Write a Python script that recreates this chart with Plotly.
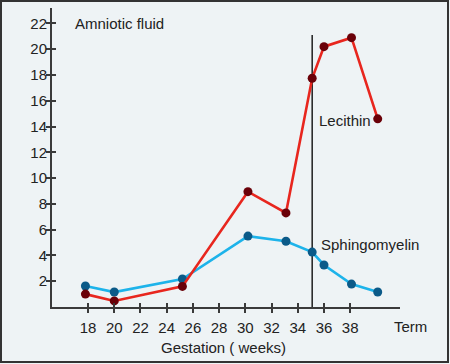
import plotly.graph_objects as go

# Data
weeks = [17.8, 20, 25.2, 30.2, 33.1, 35.1, 36, 38.1, 40.1]
lecithin = [1.0, 0.47, 1.6, 8.95, 7.3, 17.75, 20.2, 20.9, 14.6]
sphingomyelin = [1.63, 1.16, 2.17, 5.5, 5.1, 4.26, 3.26, 1.78, 1.16]
x_ticks = [18, 20, 22, 24, 26, 28, 30, 32, 34, 36, 38]
y_ticks = [2, 4, 6, 8, 10, 12, 14, 16, 18, 20, 22]
term_week = 35.1
term_line_top = 21.1

W, H = 450, 364
ML, MR, MT, MB = 52, 50, 8, 57
XR = [15.25, 41.8]
YR = [0, 23.2]
PW, PH = W - ML - MR, H - MT - MB

FONT = "Liberation Sans, Arial, sans-serif"
TXT = "#222222"
AX = "#3a3a3a"
BG = "#eef3f5"

fig = go.Figure()

fig.add_trace(go.Scatter(x=[term_week, term_week], y=[0, term_line_top], mode="lines",
                         line=dict(color="#1e1e1e", width=1.5), hoverinfo="skip", showlegend=False))
fig.add_trace(go.Scatter(x=weeks, y=sphingomyelin, mode="lines+markers", name="Sphingomyelin",
                         line=dict(color="#1db3ea", width=2.6),
                         marker=dict(color="#0b5a88", size=9), showlegend=False, cliponaxis=False))
fig.add_trace(go.Scatter(x=weeks, y=lecithin, mode="lines+markers", name="Lecithin",
                         line=dict(color="#e8261e", width=2.6),
                         marker=dict(color="#6a0008", size=9), showlegend=False, cliponaxis=False))


def px_x(p):
    return (p - ML) / PW


def px_y(p):
    return (H - MB - p) / PH


axis_common = dict(showgrid=False, zeroline=False, showline=True, linecolor=AX, linewidth=2,
                   tickcolor=AX, tickwidth=1.5, tickfont=dict(family=FONT, size=15, color=TXT))

fig.update_layout(
    width=W, height=H,
    margin=dict(l=ML, r=MR, t=MT, b=MB),
    paper_bgcolor=BG, plot_bgcolor=BG,
    xaxis=dict(range=XR, tickmode="array", tickvals=x_ticks, ticks="outside", ticklen=4,
               ticklabelstandoff=2, **axis_common),
    yaxis=dict(range=YR, tickmode="array", tickvals=y_ticks, ticks="outside", ticklen=4,
               ticklabelstandoff=-4, **axis_common),
    xaxis2=dict(range=XR, overlaying="x", anchor="y", side="bottom", tickmode="array",
                tickvals=x_ticks, ticks="inside", ticklen=4, showticklabels=False,
                showgrid=False, zeroline=False, showline=False, tickcolor=AX, tickwidth=1.5),
    yaxis2=dict(range=YR, overlaying="y", anchor="x", side="left", tickmode="array",
                tickvals=y_ticks, ticks="inside", ticklen=4, showticklabels=False,
                showgrid=False, zeroline=False, showline=False, tickcolor=AX, tickwidth=1.5),
    showlegend=False,
)

# dummy trace to activate overlay axes
fig.add_trace(go.Scatter(x=[None], y=[None], xaxis="x2", yaxis="y2", showlegend=False, hoverinfo="skip"))

f = dict(family=FONT, size=15, color=TXT)
fig.add_annotation(x=16.85, y=22.0, text="Amniotic fluid", showarrow=False, xanchor="left",
                   yanchor="middle", font=f)
fig.add_annotation(x=35.48, y=14.5, text="Lecithin", showarrow=False, xanchor="left",
                   yanchor="middle", font=f)
fig.add_annotation(x=35.63, y=4.88, text="Sphingomyelin", showarrow=False, xanchor="left",
                   yanchor="middle", font=f)
fig.add_annotation(xref="paper", yref="paper", x=px_x(410), y=px_y(326), text="Term",
                   showarrow=False, xanchor="center", yanchor="middle", font=f)
fig.add_annotation(xref="paper", yref="paper", x=px_x(223.5), y=px_y(347), text="Gestation ( weeks)",
                   showarrow=False, xanchor="center", yanchor="middle", font=f)

# outer frame
fig.add_shape(type="rect", xref="paper", yref="paper",
              x0=px_x(1), x1=px_x(448), y0=px_y(362), y1=px_y(1),
              line=dict(color="#333333", width=2), fillcolor="rgba(0,0,0,0)", layer="above")

fig.write_html("out.html", config={"displayModeBar": False},
               post_script="document.body.style.margin='0';document.body.style.overflow='hidden';")
